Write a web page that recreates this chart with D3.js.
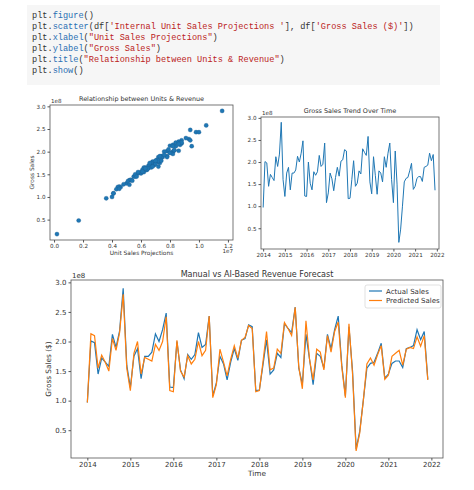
<!DOCTYPE html><html><head><meta charset="utf-8">
<script src="https://cdn.jsdelivr.net/npm/d3@7"></script>
<style>body{margin:0;background:#fff}svg{display:block}</style></head><body>
<svg id="c" width="474" height="490"></svg>
<script>
const codeLines=[
 [["plt.","#333"],["figure","#2a6fb3"],["()","#333"]],
 [["plt.","#333"],["scatter","#2a6fb3"],["(df[","#333"],["'Internal Unit Sales Projections '","#b22"],["], df[","#333"],["'Gross Sales ($)'","#b22"],["])","#333"]],
 [["plt.","#333"],["xlabel","#2a6fb3"],["(","#333"],["\"Unit Sales Projections\"","#b22"],[")","#333"]],
 [["plt.","#333"],["ylabel","#2a6fb3"],["(","#333"],["\"Gross Sales\"","#b22"],[")","#333"]],
 [["plt.","#333"],["title","#2a6fb3"],["(","#333"],["\"Relationship between Units & Revenue\"","#b22"],[")","#333"]],
 [["plt.","#333"],["show","#2a6fb3"],["()","#333"]]
];
const actual=[0.97,2.01,1.98,1.45,1.72,1.65,1.58,2.12,1.90,2.18,2.90,1.60,
1.22,1.75,1.88,1.37,1.75,1.75,1.82,2.13,2.00,2.20,2.48,1.23,
1.22,2.00,1.52,1.37,1.78,1.70,1.78,2.15,1.90,1.95,2.43,1.08,
1.30,1.75,1.62,1.35,1.65,1.88,1.68,2.02,2.05,2.28,2.25,1.17,
1.18,1.60,2.03,1.45,1.52,1.80,1.73,2.30,2.22,2.15,2.58,1.55,
1.28,2.12,1.70,1.27,1.80,1.75,1.55,2.12,1.88,2.20,2.43,1.60,
1.08,2.25,1.50,0.18,0.48,1.00,1.55,1.63,1.65,1.80,1.97,1.38,
1.45,1.63,1.67,1.67,1.56,1.88,1.90,1.93,2.20,2.03,2.17,1.36];
const predicted=[0.97,2.13,2.10,1.55,1.77,1.65,1.50,2.05,1.85,2.15,2.80,1.55,
1.17,1.80,2.00,1.45,1.73,1.70,1.67,1.95,1.85,2.00,2.42,1.17,
1.15,2.02,1.50,1.40,1.76,1.62,1.70,2.00,1.76,1.85,2.43,1.05,
1.27,1.87,1.65,1.42,1.70,1.93,1.72,2.02,2.07,2.27,2.22,1.15,
1.17,1.65,2.17,1.52,1.55,1.87,1.80,2.32,2.22,2.10,2.58,1.57,
1.20,2.35,1.70,1.35,1.87,1.82,1.52,2.10,1.82,2.17,2.33,1.57,
1.05,2.30,1.45,0.15,0.45,1.00,1.62,1.72,1.60,1.78,1.93,1.36,
1.43,1.75,1.80,1.85,1.60,1.87,1.90,1.88,2.08,1.92,2.10,1.35];
const units=[0.36,0.78,0.80,0.55,0.66,0.63,0.62,0.84,0.74,0.88,1.16,0.64,
0.46,0.70,0.72,0.52,0.69,0.73,0.71,0.80,0.76,0.84,0.94,0.45,
0.44,0.82,0.58,0.53,0.68,0.69,0.72,0.87,0.78,0.82,0.98,0.41,
0.50,0.67,0.64,0.51,0.62,0.75,0.65,0.86,0.79,0.93,0.88,0.43,
0.45,0.61,0.83,0.56,0.60,0.72,0.70,0.91,0.86,0.82,1.05,0.60,
0.48,0.95,0.66,0.52,0.70,0.66,0.62,0.82,0.74,0.87,1.00,0.64,
0.41,0.94,0.56,0.02,0.17,0.40,0.58,0.65,0.67,0.74,0.80,0.53,
0.57,0.63,0.68,0.72,0.61,0.78,0.73,0.76,0.88,0.83,0.86,0.54];
const years=[2014,2015,2016,2017,2018,2019,2020,2021,2022];
const yTicks=[0.5,1.0,1.5,2.0,2.5,3.0];
const xTicksScatter=[0.0,0.2,0.4,0.6,0.8,1.0,1.2];
const t=actual.map((_,i)=>2014+i/12);
const BLUE="#1f77b4",ORANGE="#ff7f0e",TXT="#333";
const svg=d3.select("#c");
svg.append("rect").attr("x",27).attr("y",5).attr("width",413).attr("height",80).attr("fill","#f6f6f6");
codeLines.forEach((ln,i)=>{
 const tx=svg.append("text").attr("x",32).attr("y",18+i*11).attr("font-family","Liberation Mono").attr("font-size",8.6);
 ln.forEach(([s,c])=>tx.append("tspan").attr("fill",c).text(s));
});
function panel(o){
 const g=svg.append("g");
 const x=d3.scaleLinear().domain(o.xd).range([o.l,o.r]);
 const y=d3.scaleLinear().domain(o.yd).range([o.b,o.t]);
 g.append("rect").attr("x",o.l).attr("y",o.t).attr("width",o.r-o.l).attr("height",o.b-o.t).attr("fill","none").attr("stroke","#555").attr("stroke-width",0.8);
 const ax=g.append("g").attr("transform",`translate(0,${o.b})`).call(d3.axisBottom(x).tickValues(o.xt).tickSize(2.5).tickPadding(2).tickFormat(o.xf));
 const ay=g.append("g").attr("transform",`translate(${o.l},0)`).call(d3.axisLeft(y).tickValues(yTicks).tickSize(2.5).tickPadding(2).tickFormat(d3.format(".1f")));
 [ax,ay].forEach(a=>{a.select(".domain").remove();a.selectAll("text").attr("font-size",o.fs).attr("fill",TXT).attr("font-family","DejaVu Sans");a.selectAll("line").attr("stroke","#555");});
 g.append("text").attr("x",o.l+1).attr("y",o.t-2).attr("font-size",o.fs).attr("fill",TXT).attr("font-family","DejaVu Sans").text("1e8");
 g.append("text").attr("x",(o.l+o.r)/2).attr("y",o.t-o.tg).attr("text-anchor","middle").attr("font-size",o.fs*1.15).attr("fill",TXT).attr("font-family","DejaVu Sans").text(o.title);
 if(o.xl)g.append("text").attr("x",(o.l+o.r)/2).attr("y",o.b+o.fs*2.6).attr("text-anchor","middle").attr("font-size",o.fs*1.05).attr("fill",TXT).attr("font-family","DejaVu Sans").text(o.xl);
 if(o.yl)g.append("text").attr("transform",`translate(${o.l-o.fs*2.9},${(o.t+o.b)/2}) rotate(-90)`).attr("text-anchor","middle").attr("font-size",o.fs*1.05).attr("fill",TXT).attr("font-family","DejaVu Sans").text(o.yl);
 if(o.ex)g.append("text").attr("x",o.r).attr("y",o.b+o.fs*2.4).attr("text-anchor","end").attr("font-size",o.fs).attr("fill",TXT).attr("font-family","DejaVu Sans").text(o.ex);
 return {g,x,y};
}
const p1=panel({l:50,r:233,t:105,b:240,tg:4,xd:[-0.028,1.235],yd:[0.05,3.03],xt:xTicksScatter,xf:d3.format(".1f"),fs:5.6,title:"Relationship between Units & Revenue",xl:"Unit Sales Projections",yl:"Gross Sales",ex:"1e7"});
p1.g.selectAll("circle").data(units).join("circle").attr("cx",d=>p1.x(d)).attr("cy",(d,i)=>p1.y(actual[i])).attr("r",2.1).attr("fill",BLUE).attr("stroke","#1a5a8a").attr("stroke-width",0.3);
const p2=panel({l:261,r:439,t:117,b:249,tg:4,xd:[2013.9,2022.1],yd:[0.03,3.02],xt:years,xf:d3.format("d"),fs:5.6,title:"Gross Sales Trend Over Time"});
p2.g.append("path").attr("d",d3.line().x((d,i)=>p2.x(t[i])).y(d=>p2.y(d))(actual)).attr("fill","none").attr("stroke",BLUE).attr("stroke-width",1);
const p3=panel({l:71,r:443,t:280,b:458,tg:3,xd:[2013.62,2022.27],yd:[0.03,3.04],xt:years,xf:d3.format("d"),fs:7,title:"Manual vs AI-Based Revenue Forecast",xl:"Time",yl:"Gross Sales ($)"});
[[actual,BLUE],[predicted,ORANGE]].forEach(([s,c])=>p3.g.append("path").attr("d",d3.line().x((d,i)=>p3.x(t[i])).y(d=>p3.y(d))(s)).attr("fill","none").attr("stroke",c).attr("stroke-width",1.2));
const lg=p3.g.append("g");
lg.append("rect").attr("x",365).attr("y",285).attr("width",76).attr("height",23).attr("fill","#fff").attr("stroke","#ccc").attr("stroke-width",0.6).attr("rx",2);
[["Actual Sales",BLUE],["Predicted Sales",ORANGE]].forEach(([n,c],i)=>{
 lg.append("line").attr("x1",369).attr("x2",382).attr("y1",291+i*9.5).attr("y2",291+i*9.5).attr("stroke",c).attr("stroke-width",1.2);
 lg.append("text").attr("x",386).attr("y",293.5+i*9.5).attr("font-size",7).attr("fill",TXT).attr("font-family","DejaVu Sans").text(n);
});
</script></body></html>
